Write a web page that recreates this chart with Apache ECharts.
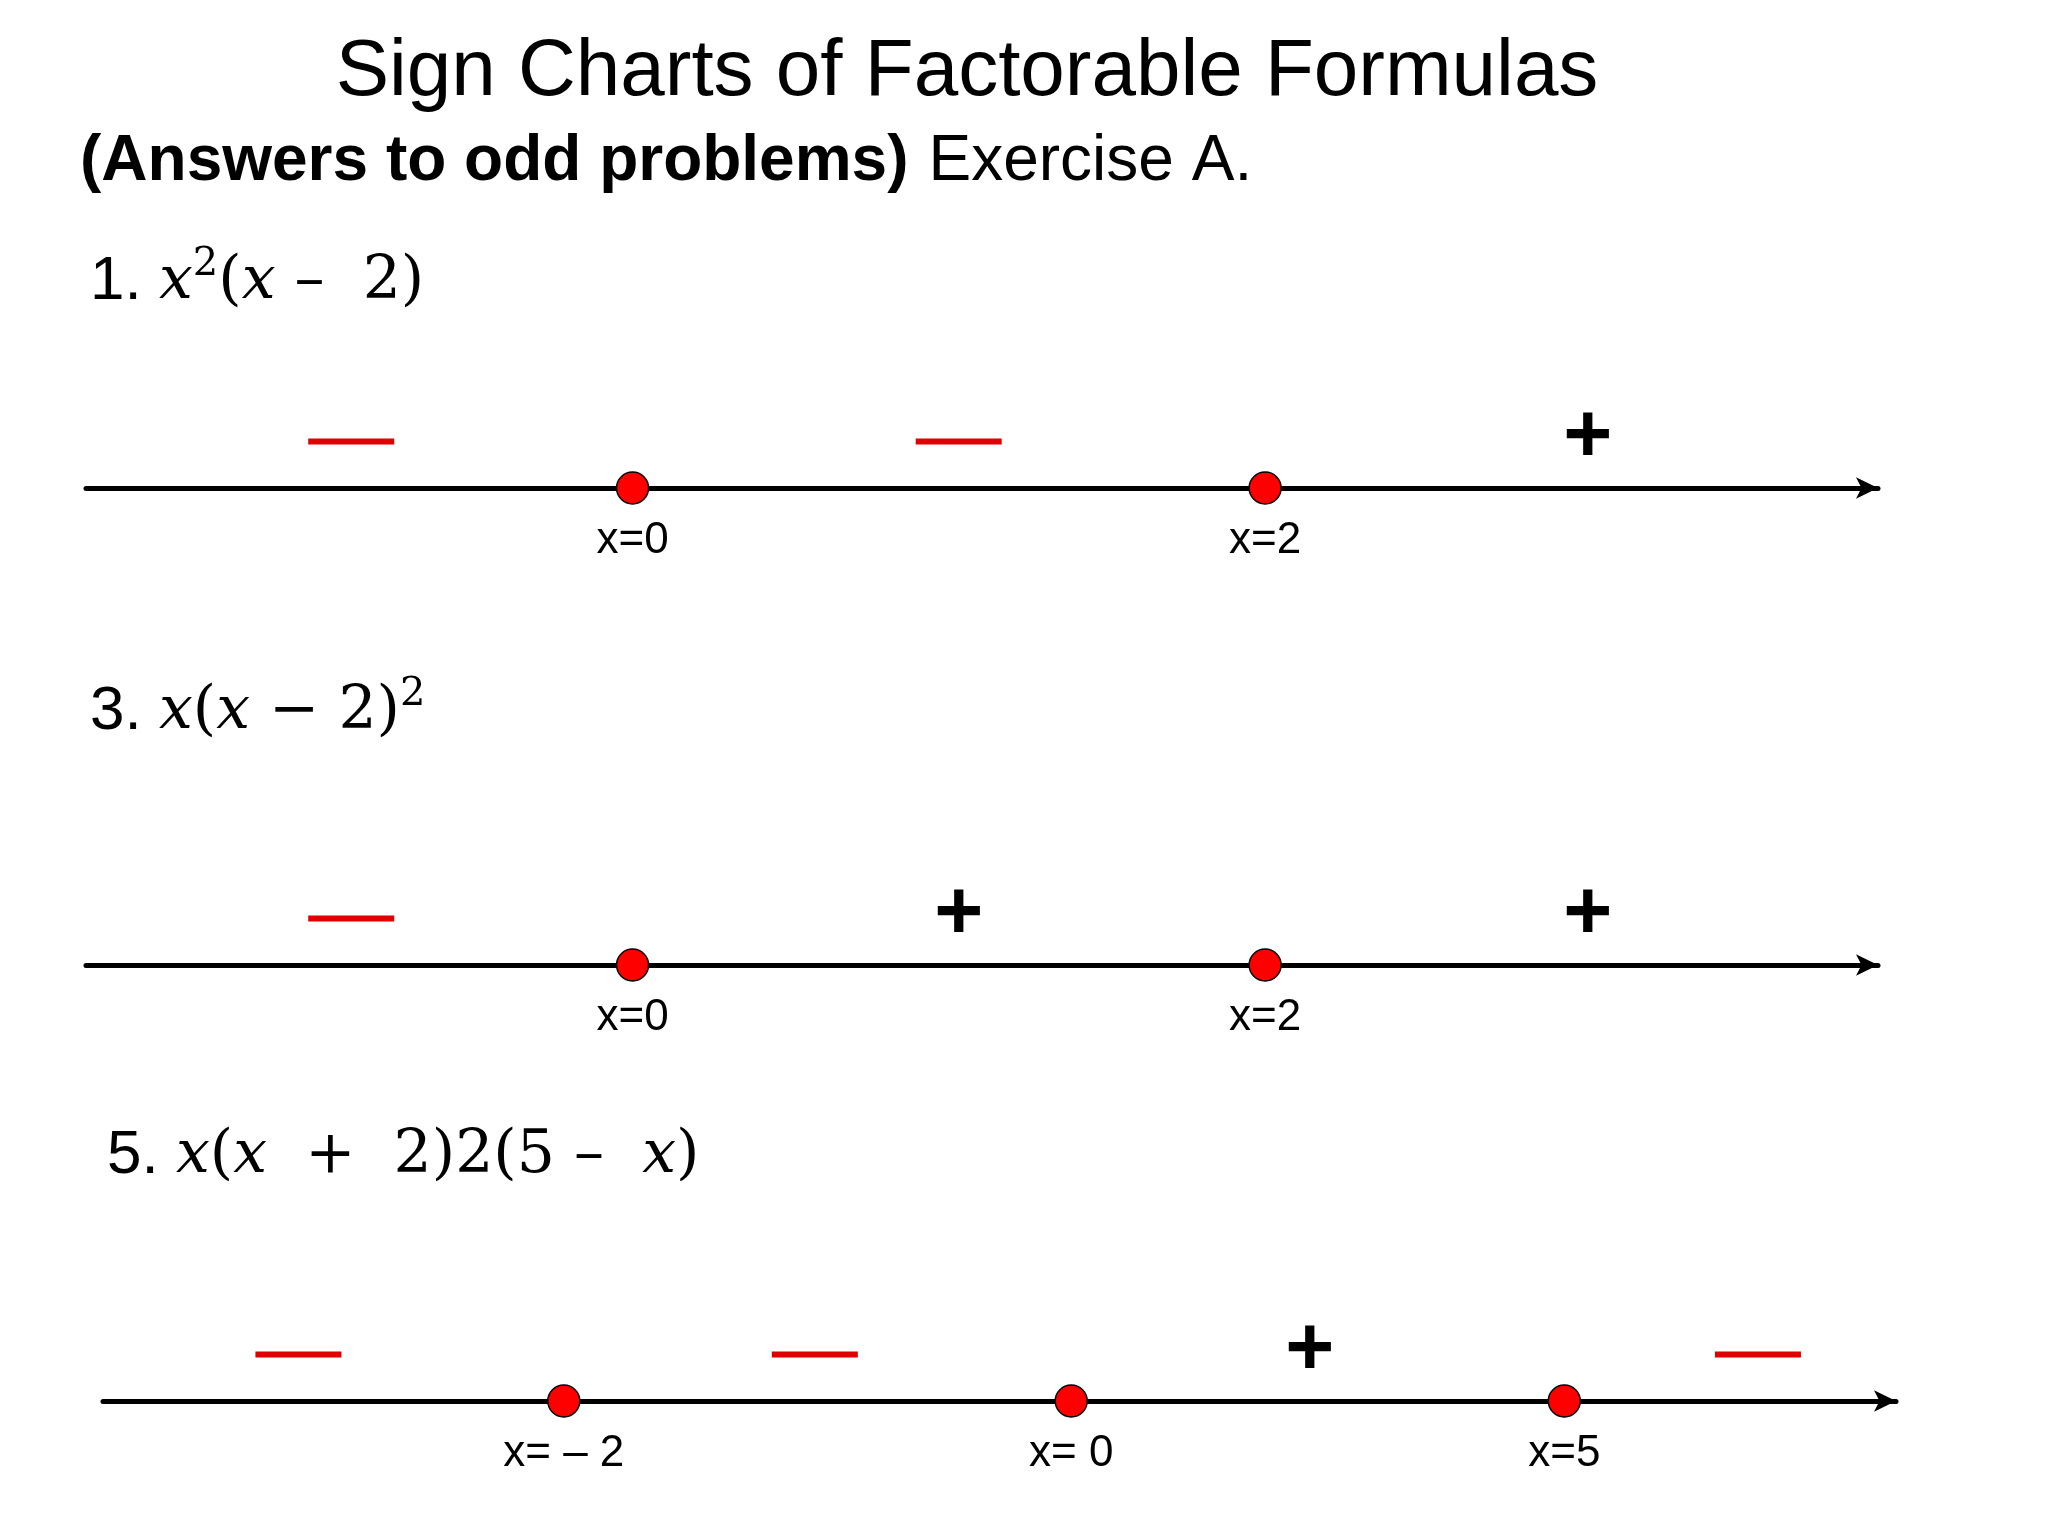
<!DOCTYPE html>
<html>
<head>
<meta charset="utf-8">
<script src="https://cdn.jsdelivr.net/npm/echarts@6/dist/echarts.min.js"></script>
<style>html,body{margin:0;background:#fff}#main{width:2048px;height:1536px}</style>
</head>
<body>
<div id="main"></div>
<script>
// positions along each number line, 0..100 of the drawn line
const rootPos1 = [30.5, 65.8], rootLabels1 = ['x=0', 'x=2'];
const signPos1 = [14.8, 48.7, 83.8], signs1 = ['-', '-', '+'];
const rootPos3 = [30.5, 65.8], rootLabels3 = ['x=0', 'x=2'];
const signPos3 = [14.8, 48.7, 83.8], signs3 = ['-', '+', '+'];
const rootPos5 = [25.7, 54.0, 81.5], rootLabels5 = ['x= \u2013 2', 'x= 0', 'x=5'];
const signPos5 = [10.9, 39.7, 67.3, 92.3], signs5 = ['-', '-', '+', '-'];

const rows = [
  {roots: rootPos1, labels: rootLabels1, sp: signPos1, s: signs1, left: 86, right: 170, y: 488},
  {roots: rootPos3, labels: rootLabels3, sp: signPos3, s: signs3, left: 86, right: 170, y: 965},
  {roots: rootPos5, labels: rootLabels5, sp: signPos5, s: signs5, left: 103, right: 152, y: 1401}
];

var myChart = echarts.init(document.getElementById('main'));
let grid = [], xAxis = [], yAxis = [], series = [];
rows.forEach(function (r, i) {
  grid.push({left: r.left, right: r.right, top: r.y - 80, height: 80});
  xAxis.push({gridIndex: i, type: 'value', min: 0, max: 100,
    axisLine: {lineStyle: {color: '#000', width: 5}, symbol: ['none', 'arrow'], symbolSize: [16, 22]},
    axisTick: {show: false}, axisLabel: {show: false}, splitLine: {show: false}});
  yAxis.push({gridIndex: i, type: 'value', min: 0, max: 1, show: false});
  series.push({type: 'scatter', xAxisIndex: i, yAxisIndex: i, z: 5,
    data: r.roots.map((p, k) => ({value: [p, 0], name: r.labels[k]})),
    symbolSize: 32, itemStyle: {color: '#f00', borderColor: '#000', borderWidth: 1.5, opacity: 1},
    label: {show: true, position: 'bottom', distance: 14, formatter: '{b}', color: '#000',
      fontSize: 44, fontFamily: 'Liberation Sans'}});
  series.push({type: 'scatter', xAxisIndex: i, yAxisIndex: i,
    data: r.sp.map((p, k) => r.s[k] === '-' ? {value: [p, 0.58]} :
      {value: [p, 0.62], symbolSize: 0, label: {show: true, formatter: '+'}}),
    symbol: 'rect', symbolSize: [86, 6], itemStyle: {color: '#e00000', opacity: 1},
    label: {show: false, position: 'inside', color: '#000', fontSize: 84,
      fontWeight: 'bold', fontFamily: 'Liberation Sans'}});
});

const it = {fontFamily: 'DejaVu Serif', fontStyle: 'italic', fontSize: 60, color: '#000'};
const rm = {fontFamily: 'DejaVu Serif', fontSize: 60, color: '#000'};
const num = {fontFamily: 'Liberation Sans', fontSize: 62, color: '#000'};
const sup = {fontFamily: 'DejaVu Serif', fontSize: 40, color: '#000', verticalAlign: 'top', padding: [0, 0, 34, 0]};

var option = {
  backgroundColor: '#fff',
  animation: false,
  title: {text: 'Sign Charts of Factorable Formulas', left: 962, top: 28, textAlign: 'center',
    textStyle: {fontSize: 80, fontWeight: 'normal', fontFamily: 'Liberation Sans', color: '#000'}},
  graphic: [
    {type: 'text', left: 80, top: 130, style: {
      rich: {b: {fontSize: 64, fontWeight: 'bold', fontFamily: 'Liberation Sans', fill: '#000'},
             n: {fontSize: 64, fontFamily: 'Liberation Sans', fill: '#000', padding: [0, 0, 0, 20]}},
      text: '{b|(Answers to odd problems)}{n|Exercise A.}'}},
    {type: 'text', left: 90, top: 245, style: {rich: {num: num, it: it, rm: rm, sup: sup},
      text: '{num|1. }{it|x}{sup|2}{rm|(}{it|x}{rm| \u2013  2)}'}},
    {type: 'text', left: 90, top: 675, style: {rich: {num: num, it: it, rm: rm, sup: sup},
      text: '{num|3. }{it|x}{rm|(}{it|x}{rm| \u2212 2)}{sup|2}'}},
    {type: 'text', left: 107, top: 1125, style: {rich: {num: num, it: it, rm: rm},
      text: '{num|5. }{it|x}{rm|(}{it|x}{rm|  +  2)2(5 \u2013  }{it|x}{rm|)}'}}
  ],
  grid, xAxis, yAxis, series
};
myChart.setOption(option);
</script>
</body>
</html>
